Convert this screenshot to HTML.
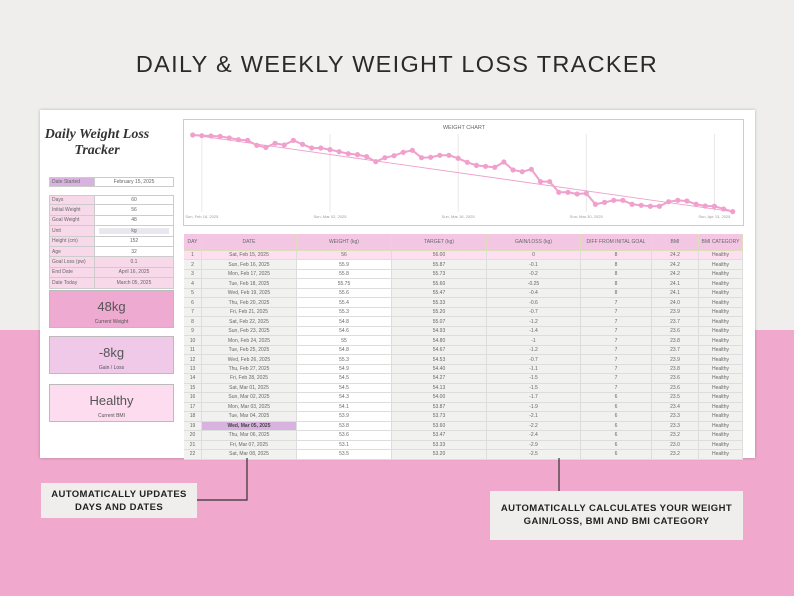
<!DOCTYPE html>
<html><head><meta charset="utf-8">
<style>
*{margin:0;padding:0;box-sizing:border-box}
body{width:794px;height:596px;position:relative;overflow:hidden;font-family:"Liberation Sans",sans-serif;background:#efeeec}
.abs{position:absolute}
#pinkbg{left:0;top:330px;width:794px;height:266px;background:#f0a8cc}
#title{left:0;top:51px;width:794px;text-align:center;font-size:23.5px;letter-spacing:1.3px;color:#2a2a2a}
#card{left:40px;top:110px;width:715px;height:348px;background:#fff;box-shadow:0 0 3px rgba(0,0,0,.25)}
#apptitle{left:42px;top:127px;width:110px;text-align:center;font-family:"Liberation Serif",serif;font-style:italic;font-weight:bold;font-size:14px;line-height:16px;color:#333}
.it{position:absolute;border:1px solid #ccc;font-size:5px;color:#666;display:flex}
.it div{display:flex;align-items:center}
.lbl{width:45px;background:#f8d9ea;padding-left:2px;border-right:1px solid #ccc}
.val{flex:1;justify-content:center}
.box{position:absolute;left:49px;width:125px;height:38px;border:1px solid #bbb;text-align:center;color:#555}
.box .big{font-size:13px;margin-top:8px}
.box .sm{font-size:5px;margin-top:5px}
#tbl{left:184px;top:234px;width:559px}
.hr{position:absolute;display:flex;font-size:5px;color:#666}
.c{display:flex;align-items:center;justify-content:center;border-right:1px solid #ddd;border-bottom:1px solid #ddd;height:100%}
.callout{position:absolute;background:#efeeec;font-weight:bold;color:#222;text-align:center;font-size:9.5px;letter-spacing:.4px;line-height:13px}
</style></head><body>
<div id="pinkbg" class="abs"></div>
<div id="title" class="abs">DAILY &amp; WEEKLY WEIGHT LOSS TRACKER</div>
<div id="card" class="abs"></div>
<div id="apptitle" class="abs">Daily Weight Loss<br>Tracker</div>

<div class="it" style="left:49px;top:177px;width:125px;height:10px">
 <div class="lbl" style="background:#d9b3e0">Date Started</div>
 <div class="val">February 15, 2025</div>
</div>
<div id="info"></div>

<div class="box" style="top:290px;background:#eeaad0"><div class="big">48kg</div><div class="sm">Current Weight</div></div>
<div class="box" style="top:336px;background:#f0c8e8"><div class="big">-8kg</div><div class="sm">Gain / Loss</div></div>
<div class="box" style="top:384px;background:#fcdcee"><div class="big">Healthy</div><div class="sm">Current BMI</div></div>

<svg class="abs" style="left:0;top:0" width="794" height="596">
 <rect x="183.5" y="119.5" width="560" height="106" fill="#fff" stroke="#ccc"/>
 <text x="464" y="129" font-size="5.5" fill="#666" text-anchor="middle" font-family="Liberation Sans">WEIGHT CHART</text>
 <g id="grid"></g><g id="marks"></g>
</svg>

<div id="tbl" class="abs"></div>

<svg class="abs" style="left:0;top:0" width="794" height="596">
 <polyline points="197,500 247,500 247,458" fill="none" stroke="#333" stroke-width="1.2"/>
 <line x1="559" y1="458" x2="559" y2="491" stroke="#333" stroke-width="1.2"/>
</svg>
<div class="callout" style="left:41px;top:483px;width:156px;height:35px;padding-top:5px">AUTOMATICALLY UPDATES<br>DAYS AND DATES</div>
<div class="callout" style="left:490px;top:491px;width:253px;height:49px;padding-top:11px">AUTOMATICALLY CALCULATES YOUR WEIGHT<br>GAIN/LOSS, BMI AND BMI CATEGORY</div>

<script>
const weights=[56.0,55.93,55.9,55.86,55.69,55.51,55.44,54.92,54.71,55.13,54.96,55.44,55.03,54.64,54.64,54.47,54.26,54.05,53.95,53.74,53.22,53.63,53.84,54.19,54.4,53.63,53.67,53.88,53.88,53.57,53.15,52.83,52.73,52.63,53.18,52.35,52.17,52.42,51.13,51.13,50.02,50.02,49.84,49.91,48.77,48.97,49.18,49.18,48.77,48.66,48.56,48.56,49.04,49.18,49.11,48.77,48.59,48.56,48.28,48.0];
const targetStart=56, targetEnd=48;
const tickDays=[1,15,29,43,57];
const tickLabels=["Sun, Feb 16, 2025","Sun, Mar 02, 2025","Sun, Mar 16, 2025","Sun, Mar 30, 2025","Sun, Apr 13, 2025"];
const NS="http://www.w3.org/2000/svg";
const xs=i=>192.7+i*(540/(weights.length-1));
const ys=w=>135+(56-w)*9.58;
const grid=document.getElementById('grid'), marks=document.getElementById('marks');
tickDays.forEach((d,k)=>{
 const l=document.createElementNS(NS,'line');
 l.setAttribute('x1',xs(d));l.setAttribute('x2',xs(d));l.setAttribute('y1',134);l.setAttribute('y2',212);
 l.setAttribute('stroke','#e2e2e2');l.setAttribute('stroke-width','0.8');
 
 
 grid.appendChild(l);
 const t=document.createElementNS(NS,'text');
 t.setAttribute('x',xs(d));t.setAttribute('y',218);t.setAttribute('font-size','4');t.setAttribute('fill','#999');
 t.setAttribute('text-anchor','middle');t.setAttribute('font-family','Liberation Sans');
 t.textContent=tickLabels[k];
 
 
 grid.appendChild(t);
});
const tl=document.createElementNS(NS,'line');
tl.setAttribute('x1',xs(0));tl.setAttribute('y1',ys(targetStart));tl.setAttribute('x2',xs(weights.length-1));tl.setAttribute('y2',ys(targetEnd));
tl.setAttribute('stroke','#f0a0cc');tl.setAttribute('stroke-width','0.9');


marks.appendChild(tl);
const pl=document.createElementNS(NS,'polyline');
pl.setAttribute('points',weights.map((w,i)=>xs(i)+','+ys(w)).join(' '));
pl.setAttribute('fill','none');pl.setAttribute('stroke','#f0a0cc');pl.setAttribute('stroke-width','2');


marks.appendChild(pl);
weights.forEach((w,i)=>{
 const c=document.createElementNS(NS,'circle');
 c.setAttribute('cx',xs(i));c.setAttribute('cy',ys(w));c.setAttribute('r','2.6');c.setAttribute('fill','#f0a0cc');
 
 
 marks.appendChild(c);
});

const infoLabels=["Days","Initial Weight","Goal Weight","Unit","Height (cm)","Age","Goal Loss (pw)","End Date","Date Today"];
const infoVals=["60","56","48","kg","152","32","0.1","April 16, 2025","March 05, 2025"];
const info=document.getElementById('info');
infoLabels.forEach((lb,i)=>{
 const r=document.createElement('div');r.className='it';
 r.style.cssText=`left:49px;top:${195+i*10.4}px;width:125px;height:10.4px;border-top:${i?0:1}px solid #ccc`;
 
 
 const pinkVal=i>=6;
 r.innerHTML=`<div class="lbl">${lb}</div><div class="val" style="${pinkVal?'background:#f8d9ea':''}">${i==3?'<span style="background:#e8e8ee;width:70px;text-align:center;display:inline-block">kg</span>':infoVals[i]}</div>`;
 info.appendChild(r);
});

const cols=[["DAY",18],["DATE",95],["WEIGHT (kg)",95],["TARGET (kg)",95],["GAIN/LOSS (kg)",94],["DIFF FROM INITAL GOAL",71],["BMI",47],["BMI CATEGORY",44]];
const dates=["Sat, Feb 15, 2025","Sun, Feb 16, 2025","Mon, Feb 17, 2025","Tue, Feb 18, 2025","Wed, Feb 19, 2025","Thu, Feb 20, 2025","Fri, Feb 21, 2025","Sat, Feb 22, 2025","Sun, Feb 23, 2025","Mon, Feb 24, 2025","Tue, Feb 25, 2025","Wed, Feb 26, 2025","Thu, Feb 27, 2025","Fri, Feb 28, 2025","Sat, Mar 01, 2025","Sun, Mar 02, 2025","Mon, Mar 03, 2025","Tue, Mar 04, 2025","Wed, Mar 05, 2025","Thu, Mar 06, 2025","Fri, Mar 07, 2025","Sat, Mar 08, 2025"];
const tw=["56","55.9","55.8","55.75","55.6","55.4","55.3","54.8","54.6","55","54.8","55.3","54.9","54.5","54.5","54.3","54.1","53.9","53.8","53.6","53.1","53.5"];
const gains=["0","-0.1","-0.2","-0.25","-0.4","-0.6","-0.7","-1.2","-1.4","-1","-1.2","-0.7","-1.1","-1.5","-1.5","-1.7","-1.9","-2.1","-2.2","-2.4","-2.9","-2.5"];
const diffs=[8,8,8,8,8,7,7,7,7,7,7,7,7,7,7,6,6,6,6,6,6,6];
const bmis=["24.2","24.2","24.2","24.1","24.1","24.0","23.9","23.7","23.6","23.8","23.7","23.9","23.8","23.6","23.6","23.5","23.4","23.3","23.3","23.2","23.0","23.2"];
const tbl=document.getElementById('tbl');
let h=document.createElement('div');h.className='hr';h.style.cssText='left:0;top:0;height:17px;width:559px;background:#f3c6e4';


cols.forEach(c=>{const d=document.createElement('div');d.className='c';d.style.width=c[1]+'px';d.style.borderColor='#ddb';d.textContent=c[0];h.appendChild(d);});
tbl.appendChild(h);
dates.forEach((dt,i)=>{
 const r=document.createElement('div');r.className='hr';
 r.style.cssText=`left:0;top:${17+i*9.48}px;height:9.48px;width:559px;background:${i==0?'#fde0ef':'#fff'}`;
 
 
 const tgt=(56-i*8/60).toFixed(2);
 const vals=[i+1,dt,tw[i],tgt,gains[i],diffs[i],bmis[i],"Healthy"];
 vals.forEach((v,k)=>{const d=document.createElement('div');d.className='c';d.style.width=cols[k][1]+'px';
  if(i>0&&k!=2)d.style.background='#f1f1ef';
  if(i==18&&k==1){d.style.background='#d9b3e0';d.style.fontWeight='bold';d.style.color='#444';}
  d.textContent=v;r.appendChild(d);});
 tbl.appendChild(r);
});
</script>
</body></html>
